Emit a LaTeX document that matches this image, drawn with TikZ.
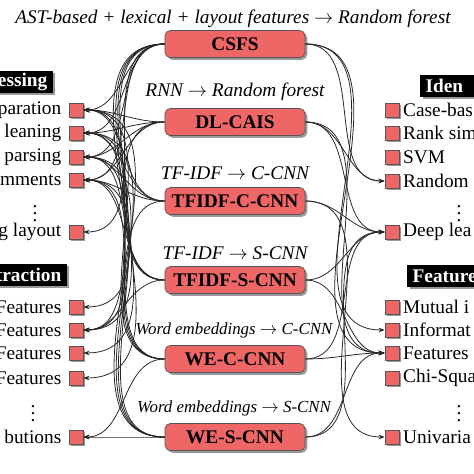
\documentclass[tikz,border=0pt]{standalone}
\usepackage{fontspec}
\setmainfont{Liberation Serif}
\usepackage{tikz}
\usetikzlibrary{arrows.meta, positioning, shadows}
\definecolor{boxred}{HTML}{EE6666}
\definecolor{edgegray}{HTML}{555555}
\newcommand{\elevenpt}{\fontsize{11}{13}\selectfont}
\newcommand{\tenpt}{\fontsize{9.6}{11}\selectfont}

\tikzset{
  softshadow/.style={drop shadow={shadow xshift=1.3pt, shadow yshift=-1.3pt, fill=black!40, opacity=1}},
  method/.style={draw=edgegray, fill=boxred, rounded corners=3pt, minimum width=2.8cm,
    minimum height=0.54cm, inner sep=1pt, font=\elevenpt\bfseries, softshadow},
  sq/.style={draw=edgegray, fill=boxred, minimum size=0.28cm, inner sep=0pt, softshadow},
  headbox/.style={fill=black, text=white, font=\elevenpt\bfseries, text width=2cm,
    minimum height=0.44cm, inner ysep=1pt, inner xsep=3pt, softshadow},
  itemlbl/.style={font=\elevenpt, inner sep=1pt},
  caption/.style={font=\elevenpt\itshape},
  moredots/.style={font=\elevenpt, inner sep=0pt},
  link/.style={->, line width=0.45pt, black!85},
}

\begin{document}
\begin{tikzpicture}[x=0.02cm, y=0.02cm, >={Stealth[length=3.5pt,width=2.6pt]}]
  \useasboundingbox (0,0) rectangle (474,474);
  \clip (0,0) rectangle (474,474);

  % methods in the middle
  \node[caption] (toplbl) at (233,455) {AST-based + lexical + layout features $\rightarrow$ Random forest};
  \node[method] (csfs) at (235,430) {CSFS};
  \node[caption] (rnnlbl) at (235,382) {RNN $\rightarrow$ Random forest};
  \node[method] (dlcais) at (235,352) {DL-CAIS};
  \node[caption] (tfclbl) at (235,301) {TF-IDF $\rightarrow$ C-CNN};
  \node[method] (tfc) at (235,273) {TFIDF-C-CNN};
  \node[caption] (tfslbl) at (235,221) {TF-IDF $\rightarrow$ S-CNN};
  \node[method] (tfs) at (235,194) {TFIDF-S-CNN};
  \node[caption, font=\tenpt\itshape] (weclbl) at (234,144) {Word embeddings $\rightarrow$ C-CNN};
  \node[method] (wec) at (235,115) {WE-C-CNN};
  \node[caption, font=\tenpt\itshape] (weslbl) at (234,66) {Word embeddings $\rightarrow$ S-CNN};
  \node[method] (wes) at (235,37) {WE-S-CNN};

  % left column
  \node[headbox, anchor=east, align=right] (prehead) at (53,392) {essing};
  \node[sq] (pre1) at (76,364) {};
  \node[sq] (pre2) at (76,341) {};
  \node[sq] (pre3) at (76,317) {};
  \node[sq] (pre4) at (76,294) {};
  \node[moredots] (predots) at (35,266) {$\vdots$};
  \node[sq] (pre5) at (76,242) {};
  \node[itemlbl, left=3pt of pre1] {paration};
  \node[itemlbl, left=3pt of pre2] {leaning};
  \node[itemlbl, left=3pt of pre3] {parsing};
  \node[itemlbl, left=3pt of pre4] {mments};
  \node[itemlbl, left=3pt of pre5] {g layout};

  \node[headbox, anchor=east, align=right] (exthead) at (67,199) {traction};
  \node[sq] (ext1) at (76,167) {};
  \node[sq] (ext2) at (76,144) {};
  \node[sq] (ext3) at (76,121) {};
  \node[sq] (ext4) at (76,96) {};
  \node[moredots] (extdots) at (33,66) {$\vdots$};
  \node[sq] (ext5) at (76,37) {};
  \node[itemlbl, left=3pt of ext1] {Features};
  \node[itemlbl, left=3pt of ext2] {Features};
  \node[itemlbl, left=3pt of ext3] {Features};
  \node[itemlbl, left=3pt of ext4] {Features};
  \node[itemlbl, left=3pt of ext5] {butions};

  % right column
  \node[headbox, anchor=west, align=left] (idnhead) at (420,388) {Iden};
  \node[sq] (idn1) at (392,364) {};
  \node[sq] (idn2) at (392,341) {};
  \node[sq] (idn3) at (392,317) {};
  \node[sq] (idn4) at (392,293) {};
  \node[moredots] (idndots) at (459,266) {$\vdots$};
  \node[sq] (idn5) at (392,242) {};
  \node[itemlbl, right=1pt of idn1] {Case-bas};
  \node[itemlbl, right=1pt of idn2] {Rank sim};
  \node[itemlbl, right=1pt of idn3] {SVM};
  \node[itemlbl, right=1pt of idn4] {Random};
  \node[itemlbl, right=1pt of idn5] {Deep lea};

  \node[headbox, anchor=west, align=left] (selhead) at (407,198) {Feature};
  \node[sq] (sel1) at (392,167) {};
  \node[sq] (sel2) at (392,144) {};
  \node[sq] (sel3) at (392,121) {};
  \node[sq] (sel4) at (392,96) {};
  \node[moredots] (seldots) at (459,66) {$\vdots$};
  \node[sq] (sel5) at (392,37) {};
  \node[itemlbl, right=1pt of sel1] {Mutual i};
  \node[itemlbl, right=1pt of sel2] {Informat};
  \node[itemlbl, right=1pt of sel3] {Features};
  \node[itemlbl, right=1pt of sel4] {Chi-Squa};
  \node[itemlbl, right=1pt of sel5] {Univaria};

  % links to the left
  \foreach \t in {pre1,pre2,pre3,pre4,pre5,ext1,ext2,ext3,ext4}
    \draw[link] (csfs.west) to[out=180,in=0] (\t.east);
  \foreach \t in {pre1,pre2,pre3,pre4,ext2}
    \draw[link] (dlcais.west) to[out=180,in=0] (\t.east);
  \foreach \t in {pre1,pre2,pre3,pre4,ext2}
    \draw[link] (tfc.west) to[out=180,in=0] (\t.east);
  \foreach \t in {pre1,pre2,pre3,pre4,ext2}
    \draw[link] (tfs.west) to[out=180,in=0] (\t.east);
  \foreach \t in {pre1,pre2,pre3,pre4,ext5}
    \draw[link] (wec.west) to[out=180,in=0] (\t.east);
  \foreach \t in {pre1,pre2,pre3,pre4,ext5}
    \draw[link] (wes.west) to[out=180,in=0] (\t.east);

  % links to the right
  \foreach \t in {idn4,sel2,sel3}
    \draw[link] (csfs.east) to[out=0,in=180] (\t.west);
  \foreach \t in {idn4,idn5,sel3}
    \draw[link] (dlcais.east) to[out=0,in=180] (\t.west);
  \foreach \t in {idn5,sel5}
    \draw[link] (tfc.east) to[out=0,in=180] (\t.west);
  \foreach \t in {idn5,sel3}
    \draw[link] (tfs.east) to[out=0,in=180] (\t.west);
  \foreach \t in {idn5,sel3}
    \draw[link] (wec.east) to[out=0,in=180] (\t.west);
  \foreach \t in {idn5,sel3}
    \draw[link] (wes.east) to[out=0,in=180] (\t.west);
\end{tikzpicture}
\end{document}
